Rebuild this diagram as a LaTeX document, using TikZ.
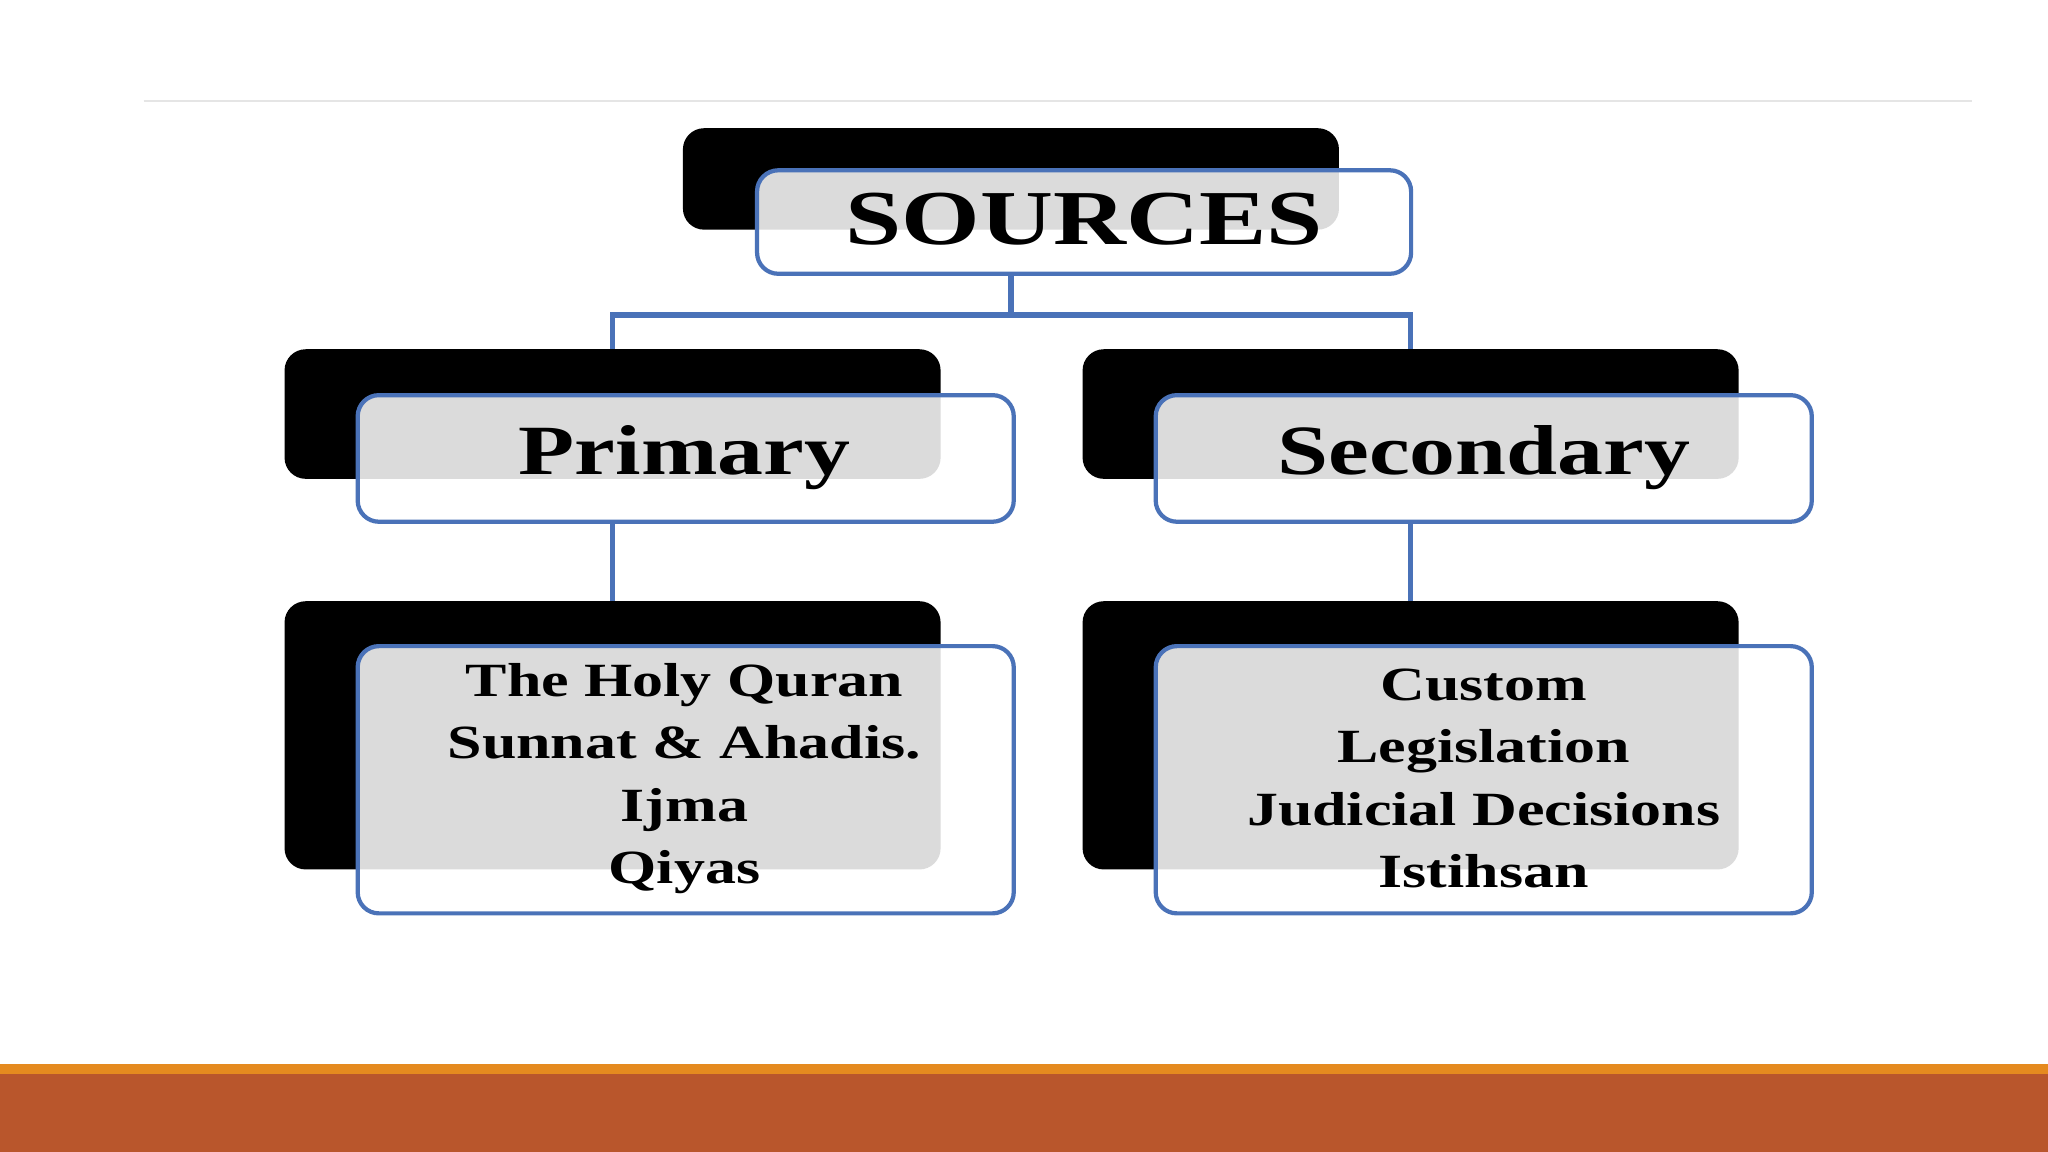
\documentclass[tikz,border=0pt]{standalone}
\usepackage{fontspec}
\setmainfont{Liberation Serif}
\usetikzlibrary{positioning}
\definecolor{boxblue}{HTML}{4A72B8}
\definecolor{barorange}{HTML}{E58A1F}
\definecolor{barrust}{HTML}{B9562C}
\tikzset{
  shadowbox/.style={fill=black,rounded corners=6pt,inner sep=0pt},
  frontbox/.style={draw=boxblue,line width=1.2pt,fill=white,fill opacity=0.86,text opacity=1,rounded corners=6pt,inner sep=0pt},
  label/.style={font=\bfseries,xscale=1.3,align=center}
}
\begin{document}
\begin{tikzpicture}[x=0.013cm,y=-0.013cm]
\useasboundingbox (0,0) rectangle (1568,882);
\fill[white] (0,0) rectangle (1568,882);
\draw[gray!20,line width=0.6pt] (110,77) -- (1510,77);
% bottom bar
\fill[barorange] (0,815) rectangle (1568,823);
\fill[barrust] (0,822) rectangle (1568,882);
% shadows
\node[shadowbox,minimum width=6.53cm,minimum height=1.01cm] (srcS) at (774,137) {};
\node[shadowbox,minimum width=6.53cm,minimum height=1.29cm] (priS) at (469,317) {};
\node[shadowbox,minimum width=6.53cm,minimum height=1.29cm] (secS) at (1080,317) {};
\node[shadowbox,minimum width=6.53cm,minimum height=2.67cm] (priLS) at (469,563) {};
\node[shadowbox,minimum width=6.53cm,minimum height=2.67cm] (secLS) at (1080,563) {};
% front boxes
\node[frontbox,minimum width=6.51cm,minimum height=1.03cm] (src) at (830,170) {};
\node[frontbox,minimum width=6.53cm,minimum height=1.26cm] (pri) at (525,351) {};
\node[frontbox,minimum width=6.53cm,minimum height=1.26cm] (sec) at (1136,351) {};
\node[frontbox,minimum width=6.53cm,minimum height=2.66cm] (priL) at (525,597) {};
\node[frontbox,minimum width=6.53cm,minimum height=2.66cm] (secL) at (1136,597) {};
% texts
\node[label,font=\bfseries\fontsize{22}{26}\selectfont] at (830,168) {SOURCES};
\node[label,font=\bfseries\fontsize{20}{24}\selectfont] at (524,350) {Primary};
\node[label,font=\bfseries\fontsize{20}{24}\selectfont] at (1136,350) {Secondary};
\node[label,font=\bfseries\fontsize{13.5}{17.7}\selectfont] at (524,596) {The Holy Quran\\Sunnat \& Ahadis.\\Ijma\\Qiyas};
\node[label,font=\bfseries\fontsize{13.5}{17.7}\selectfont] at (1136,596) {Custom\\Legislation\\Judicial Decisions\\Istihsan};
% connectors
\draw[boxblue,line width=1.5pt] (src.south -| srcS.south) -- ++(0,30) -| (priS.north);
\draw[boxblue,line width=1.5pt] (src.south -| srcS.south) ++(0,30) -| (secS.north);
\draw[boxblue,line width=1.5pt] (pri.south -| priS.south) -- (priLS.north);
\draw[boxblue,line width=1.5pt] (sec.south -| secS.south) -- (secLS.north);
\end{tikzpicture}
\end{document}
